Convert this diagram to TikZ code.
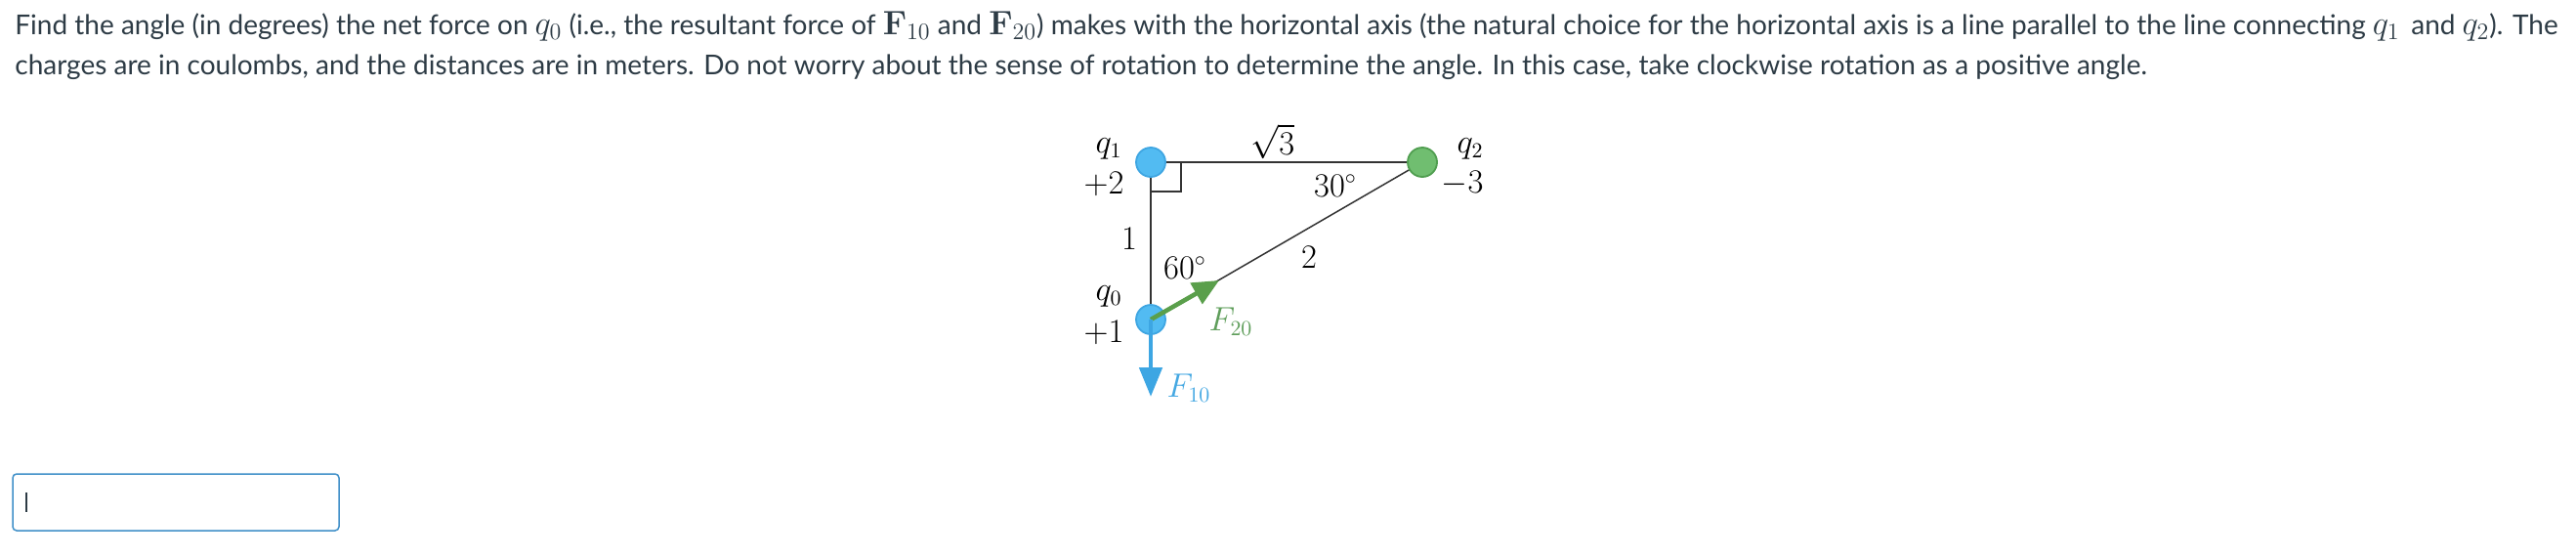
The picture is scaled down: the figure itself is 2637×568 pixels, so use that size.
\documentclass[tikz,border=0pt]{standalone}
\usepackage[no-math]{fontspec}
\setmainfont{Lato}
\usetikzlibrary{arrows.meta,calc}
\definecolor{txt}{HTML}{2D3B45}
\definecolor{bluefill}{HTML}{52BBF2}
\definecolor{blueedge}{HTML}{3FA6E2}
\definecolor{greenfill}{HTML}{70BE70}
\definecolor{greenedge}{HTML}{509E50}
\definecolor{bluearrow}{HTML}{3DA6E3}
\definecolor{greenarrow}{HTML}{5A9F4B}
\definecolor{greenlabel}{HTML}{5F9E5B}
\definecolor{bluelabel}{HTML}{45A8E2}
\definecolor{boxedge}{HTML}{3F8FC8}
\definecolor{linegray}{HTML}{333333}
\newcommand{\bm}[1]{{\fontsize{16.5}{16}\selectfont$#1$}}
\begin{document}
\begin{tikzpicture}[x=0.5pt,y=-0.5pt,
  para/.style={anchor=base west, inner sep=0pt, text=txt, font=\fontsize{14}{16}\selectfont},
  bluecharge/.style={circle, fill=bluefill, draw=blueedge, line width=0.9pt, minimum size=15pt, inner sep=0pt},
  greencharge/.style={circle, fill=greenfill, draw=greenedge, line width=0.9pt, minimum size=15pt, inner sep=0pt},
  lbl/.style={inner sep=0pt, font=\fontsize{16}{18}\selectfont},
  geom/.style={draw=linegray, line width=0.75pt},
  f10arrow/.style={draw=bluearrow, line width=2.4pt, -{Triangle[length=15pt,width=11.5pt]}},
  f20arrow/.style={draw=greenarrow, line width=2.3pt, -{Triangle[length=13.5pt,width=12pt]}},
]
\useasboundingbox (0,0) rectangle (2637,568);

% question text
\node[para] (l1) at (15,35) {Find the angle (in degrees) the net force on \bm{q_0} (i.e., the resultant force of \bm{\mathbf{F}_{10}} and \bm{\mathbf{F}_{20}}) makes with the horizontal axis (the natural choice for the horizontal axis is a line parallel to the line connecting \bm{q_1}\, and \bm{q_2}). The};
\node[para] (l2) at (15,76) {charges are in coulombs, and the distances are in meters. Do not worry about the sense of rotation to determine the angle. In this case, take clockwise rotation as a positive angle.};

% charges
\coordinate (c1) at (1178,166);
\coordinate (c2) at (1456,166);
\coordinate (c0) at (1178,327);
\coordinate (t20) at (1248,287);
\coordinate (t10) at (1178,406);

\draw[geom] (c1) -- (c2);
\draw[geom] (c1) -- (c0);
\draw[geom] (c0) -- (c2);
\draw[geom] ($(c1)+(31,0)$) -- ++(0,30) -- ++(-31,0);

\node[bluecharge] (q1) at (c1) {};
\node[greencharge] (q2) at (c2) {};
\node[bluecharge] (q0) at (c0) {};

\draw[f20arrow] (q0.center) -- (t20);
\draw[f10arrow] (q0.center) -- (t10);

% labels
\node[lbl] (lq1) at (1135,152) {$q_1$};
\node[lbl] (lc1) at (1130,188) {$+2$};
\node[lbl] (lq0) at (1135,303) {$q_0$};
\node[lbl] (lc0) at (1130,340) {$+1$};
\node[lbl] (lq2) at (1505,152) {$q_2$};
\node[lbl] (lc2) at (1497,188) {$-3$};
\node[lbl] (ld1) at (1156,244) {$1$};
\node[lbl] (la60) at (1213,274) {$60^\circ$};
\node[lbl] (lsq) at (1303,145) {$\sqrt{3}$};
\node[lbl] (la30) at (1367,190) {$30^\circ$};
\node[lbl] (ld2) at (1340,263) {$2$};
\node[lbl, text=greenlabel] (lf20) at (1260,329) {$F_{20}$};
\node[lbl, text=bluelabel] (lf10) at (1217,397) {$F_{10}$};

% answer box
\draw[draw=boxedge, line width=0.75pt, rounded corners=2pt] (13,485) rectangle (347,543);
\draw[draw=txt, line width=0.6pt] (27,504) -- (27,524);
\end{tikzpicture}
\end{document}
